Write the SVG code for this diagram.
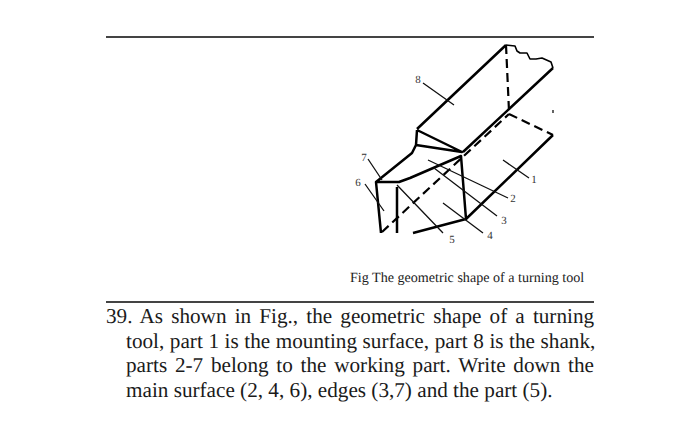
<svg xmlns="http://www.w3.org/2000/svg" width="700" height="443" viewBox="0 0 700 443">
<style>
text{font-family:"Liberation Serif","Times New Roman",serif;fill:#1a1a1a;text-rendering:geometricPrecision}
.b{font-size:21.2px}.c{font-size:14.1px}.n{font-size:11px;fill:#333}
.r{stroke:#444;stroke-width:2;fill:none}
.t{stroke:#000;stroke-width:2.5;fill:none;stroke-linejoin:round}
.w{stroke:#000;stroke-width:1.6;fill:none;stroke-linejoin:round}
.d{stroke:#000;stroke-width:2.2;fill:none;stroke-dasharray:9 5}
.l{stroke:#111;stroke-width:1.3;fill:none}
</style>
<rect width="700" height="443" fill="#fff"/>
<g id="rules"><path class="r" d="M106 37H594M106 302H594"/></g>
<g id="connectors">
<path class="t" d="M417 129L506 45M553 68L463 152M417 130L416 145L412 153L376 182L381 233M417 130L462 152L416 145M376 182L399 182L410 178L461 156L466 219L553 135M466 219L413 233M397 187V233"/>
<path class="w" d="M506 45L515 46L517 51L520 53L527 53L530 59L536 59L542 58L551 62L553 68"/>
<path class="d" d="M506 45L509 111M509 114L553 135M382 232L509 114"/>
<path class="l" d="M423 83L454 105M368 159L382 180M365 184L384 211M397 185L443 233M428 160L508 198M434 168L497 216M443 203L483 233M503 160L529 178M553 110V113"/>
</g>
<g id="labels">
<text class="n" x="418" y="83" text-anchor="middle">8</text>
<text class="n" x="364" y="161" text-anchor="middle">7</text>
<text class="n" x="358" y="186" text-anchor="middle">6</text>
<text class="n" x="452" y="243" text-anchor="middle">5</text>
<text class="n" x="490" y="239" text-anchor="middle">4</text>
<text class="n" x="504" y="224" text-anchor="middle">3</text>
<text class="n" x="513" y="202" text-anchor="middle">2</text>
<text class="n" x="534" y="183" text-anchor="middle">1</text>
</g>
<text class="c" x="350" y="282">Fig The geometric shape of a turning tool</text>
<g id="body">
<text class="b" x="106" y="323" word-spacing="2.85">39. As shown in Fig., the geometric shape of a turning</text>
<text class="b" x="126" y="348" word-spacing="0.3">tool, part 1 is the mounting surface, part 8 is the shank,</text>
<text class="b" x="126" y="372" word-spacing="2.45">parts 2-7 belong to the working part. Write down the</text>
<text class="b" x="126" y="397">main surface (2, 4, 6), edges (3,7) and the part (5).</text>
</g>
</svg>
